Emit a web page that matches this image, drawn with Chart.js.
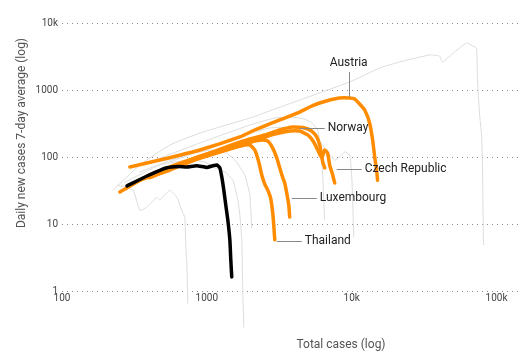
<!DOCTYPE html>
<html>
<head>
<meta charset="utf-8">
<script src="https://cdn.jsdelivr.net/npm/chart.js@4.4.1/dist/chart.umd.min.js"></script>
<style>
html,body{margin:0;padding:0;background:#fff;}
#wrap{width:526px;height:362px;}
</style>
</head>
<body>
<div id="wrap"><canvas id="c" width="526" height="362"></canvas></div>
<script>
// Axis ticks
const xTicks = [100, 1000, 10000, 100000];
const xTickLabels = ["100", "1000", "10k", "100k"];
const yTicks = [1, 10, 100, 1000, 10000];
const yTickLabels = ["1", "10", "100", "1000", "10k"];

// Highlighted country (black)
const blackTotal = [281, 386, 530, 640, 728, 850, 1000, 1100, 1172, 1230, 1269, 1310, 1352, 1396, 1442, 1464, 1486];
const blackDaily = [37, 52, 69, 72, 71, 74, 70, 74, 76, 69, 50, 32, 19, 11.5, 5.8, 2.9, 1.62];

// Labelled comparison countries (orange)
const austriaTotal = [294, 474, 895, 1690, 2143, 2718, 3451, 4376, 5129, 6012, 7047, 8260, 9683, 10490, 11350, 12300, 13300, 13960, 14420, 14860, 15100];
const austriaDaily = [71, 90, 127, 199, 253, 311, 382, 469, 557, 640, 709, 760, 760, 734, 618, 503, 322, 179, 100, 64, 45];

const norwayTotal = [251, 404, 683, 1049, 1690, 2512, 3186, 3917, 4742, 5300, 5741, 6012, 6209, 6310, 6516];
const norwayDaily = [30, 54, 81, 115, 167, 213, 253, 280, 271, 244, 199, 151, 107, 84, 69];

const czechTotal = [404, 651, 1049, 1690, 2321, 2944, 3734, 4376, 4975, 5470, 5830, 6209, 6516, 6823, 7047, 7396, 7638];
const czechDaily = [49, 76, 107, 146, 186, 220, 244, 244, 213, 167, 127, 97, 127, 115, 76, 54, 41];

const luxTotal = [556, 895, 1442, 1980, 2395, 2635, 2851, 3040, 3186, 3343, 3451, 3562, 3680, 3734];
const luxDaily = [71, 103, 136, 167, 179, 173, 136, 97, 69, 49, 41, 29, 19, 12.7];

const thaiTotal = [345, 556, 895, 1331, 1690, 1980, 2143, 2284, 2395, 2512, 2635, 2762, 2851, 2897, 2944];
const thaiDaily = [45, 64, 97, 127, 146, 151, 127, 84, 54, 39.5, 32, 24, 14.6, 9.7, 5.8];

// Other countries (grey)
const grey1Total = [225, 345, 556, 895, 1980, 4376, 9683, 15600, 21400, 34500, 40400, 42400, 51300, 62100, 68300, 72800, 73900, 76300, 78800, 80000, 80600, 81300];
const grey1Daily = [32, 76, 151, 228, 382, 709, 1316, 2130, 2617, 3330, 3216, 2617, 3690, 5030, 4540, 4235, 1410, 454, 213, 81, 20.6, 4.9];

const grey2Total = [243, 309, 345, 386, 452, 474, 556, 621, 683, 705, 716, 728, 739];
const grey2Daily = [38, 32, 16, 18, 25, 23, 32, 25, 14.6, 12.7, 4.5, 2.6, 0.66];

const grey3Total = [272, 474, 763, 969, 1136, 1331, 1512, 1636, 1690, 1743, 1771, 1800];
const grey3Daily = [42, 76, 90, 84, 69, 60, 45, 23, 13.6, 5.8, 1.03, 0.29];

const grey4Total = [345, 651, 1049, 1331, 1560, 1828, 1980, 2044];
const grey4Daily = [60, 100, 127, 119, 90, 54, 27, 8.7];

const grey5Total = [404, 895, 1980, 2944, 3734, 4742, 5300, 5830, 6110, 6310, 6410, 6516];
const grey5Daily = [84, 162, 300, 382, 395, 369, 322, 253, 127, 54, 23, 11.5];

const grey6Total = [556, 1230, 2718, 4376, 5559, 6516, 7638, 8260, 8954, 9683, 10000, 10160, 10330];
const grey6Daily = [84, 162, 271, 271, 220, 136, 90, 100, 119, 107, 54, 23, 6.4];

// Annotations
const labelNames = ["Austria", "Norway", "Czech Republic", "Luxembourg", "Thailand"];
const labelAnchorTotal = [9530, 4376, 7880, 3857, 3040];
const labelAnchorDaily = [786, 271, 66, 24.5, 5.57];
const labelDirection = ["up", "right", "right", "right", "right"];

const pts = (t, d) => t.map((v, i) => ({x: v, y: d[i]}));
const ORANGE = '#ff8c00';
const GREY = '#dcdcdc';

function ds(t, d, color, width) {
  return {
    data: pts(t, d),
    borderColor: color,
    borderWidth: width,
    pointRadius: 0,
    tension: 0.15,
    borderCapStyle: 'round',
    borderJoinStyle: 'round',
    fill: false,
    clip: false
  };
}

const datasets = [
  ds(blackTotal, blackDaily, '#000000', 3.5),
  ds(austriaTotal, austriaDaily, ORANGE, 3.5),
  ds(norwayTotal, norwayDaily, ORANGE, 3.5),
  ds(czechTotal, czechDaily, ORANGE, 3.5),
  ds(luxTotal, luxDaily, ORANGE, 3.5),
  ds(thaiTotal, thaiDaily, ORANGE, 3.5),
  ds(grey1Total, grey1Daily, GREY, 1),
  ds(grey2Total, grey2Daily, GREY, 1),
  ds(grey3Total, grey3Daily, GREY, 1),
  ds(grey4Total, grey4Daily, GREY, 1),
  ds(grey5Total, grey5Daily, GREY, 1),
  ds(grey6Total, grey6Daily, GREY, 1)
];

const dottedGrid = {
  id: 'dottedGrid',
  beforeDatasetsDraw(chart) {
    const ctx = chart.ctx;
    const ys = chart.scales.y;
    const area = chart.chartArea;
    ctx.save();
    ctx.strokeStyle = '#8a8a8a';
    ctx.lineWidth = 1;
    ctx.setLineDash([1, 4]);
    yTicks.forEach(v => {
      const y = Math.round(ys.getPixelForValue(v)) + 0.5;
      ctx.beginPath();
      ctx.moveTo(area.left, y);
      ctx.lineTo(area.right, y);
      ctx.stroke();
    });
    ctx.restore();
  }
};

const overlay = {
  id: 'overlay',
  afterDraw(chart) {
    const ctx = chart.ctx;
    const xs = chart.scales.x, ys = chart.scales.y;
    ctx.save();
    ctx.font = '12px Roboto, "Noto Sans", sans-serif';
    ctx.textBaseline = 'middle';
    labelNames.forEach((name, i) => {
      const ax = xs.getPixelForValue(labelAnchorTotal[i]);
      const ay = ys.getPixelForValue(labelAnchorDaily[i]);
      ctx.strokeStyle = '#888';
      ctx.lineWidth = 1;
      ctx.beginPath();
      if (labelDirection[i] === 'up') {
        ctx.moveTo(Math.round(ax) + 0.5, ay);
        ctx.lineTo(Math.round(ax) + 0.5, ay - 25);
        ctx.stroke();
        ctx.fillStyle = '#222';
        ctx.textAlign = 'center';
        ctx.fillText(name, ax, ay - 34);
      } else {
        ctx.moveTo(ax, Math.round(ay) + 0.5);
        ctx.lineTo(ax + 25, Math.round(ay) + 0.5);
        ctx.stroke();
        ctx.fillStyle = '#222';
        ctx.textAlign = 'left';
        ctx.fillText(name, ax + 28, ay);
      }
    });
    ctx.fillStyle = '#555';
    ctx.font = '12px Roboto, "Noto Sans", sans-serif';
    ctx.textAlign = 'center';
    ctx.textBaseline = 'middle';
    ctx.fillText('Total cases (log)', 341, 345);
    ctx.translate(22, 133);
    ctx.rotate(-Math.PI / 2);
    ctx.fillText('Daily new cases 7-day average (log)', 0, 0);
    ctx.restore();
  }
};

new Chart(document.getElementById('c'), {
  type: 'line',
  data: { datasets },
  plugins: [dottedGrid, overlay],
  options: {
    responsive: false,
    devicePixelRatio: 1,
    animation: false,
    layout: { padding: { top: 23, right: 4, left: 0, bottom: 0 } },
    plugins: { legend: { display: false }, tooltip: { enabled: false } },
    scales: {
      x: {
        type: 'logarithmic',
        min: 100,
        max: 150000,
        afterBuildTicks: (axis) => { axis.ticks = xTicks.map(v => ({value: v})); },
        afterFit: (s) => { s.height = 71; },
        grid: { display: false, drawTicks: false },
        border: { display: false },
        ticks: {
          padding: 1,
          maxRotation: 0,
          autoSkip: false,
          color: '#444',
          font: { family: 'Roboto, "Noto Sans", sans-serif', size: 10 },
          callback: (v) => { const i = xTicks.indexOf(v); return i >= 0 ? xTickLabels[i] : ''; }
        }
      },
      y: {
        type: 'logarithmic',
        min: 1,
        max: 10000,
        afterBuildTicks: (axis) => { axis.ticks = yTicks.map(v => ({value: v})); },
        afterFit: (s) => { s.width = 62; },
        grid: { display: false, drawTicks: false },
        border: { display: false },
        ticks: {
          padding: 4,
          autoSkip: false,
          color: '#444',
          font: { family: 'Roboto, "Noto Sans", sans-serif', size: 10 },
          callback: (v) => { const i = yTicks.indexOf(v); return i >= 0 ? yTickLabels[i] : ''; }
        }
      }
    }
  }
});
</script>
</body>
</html>
